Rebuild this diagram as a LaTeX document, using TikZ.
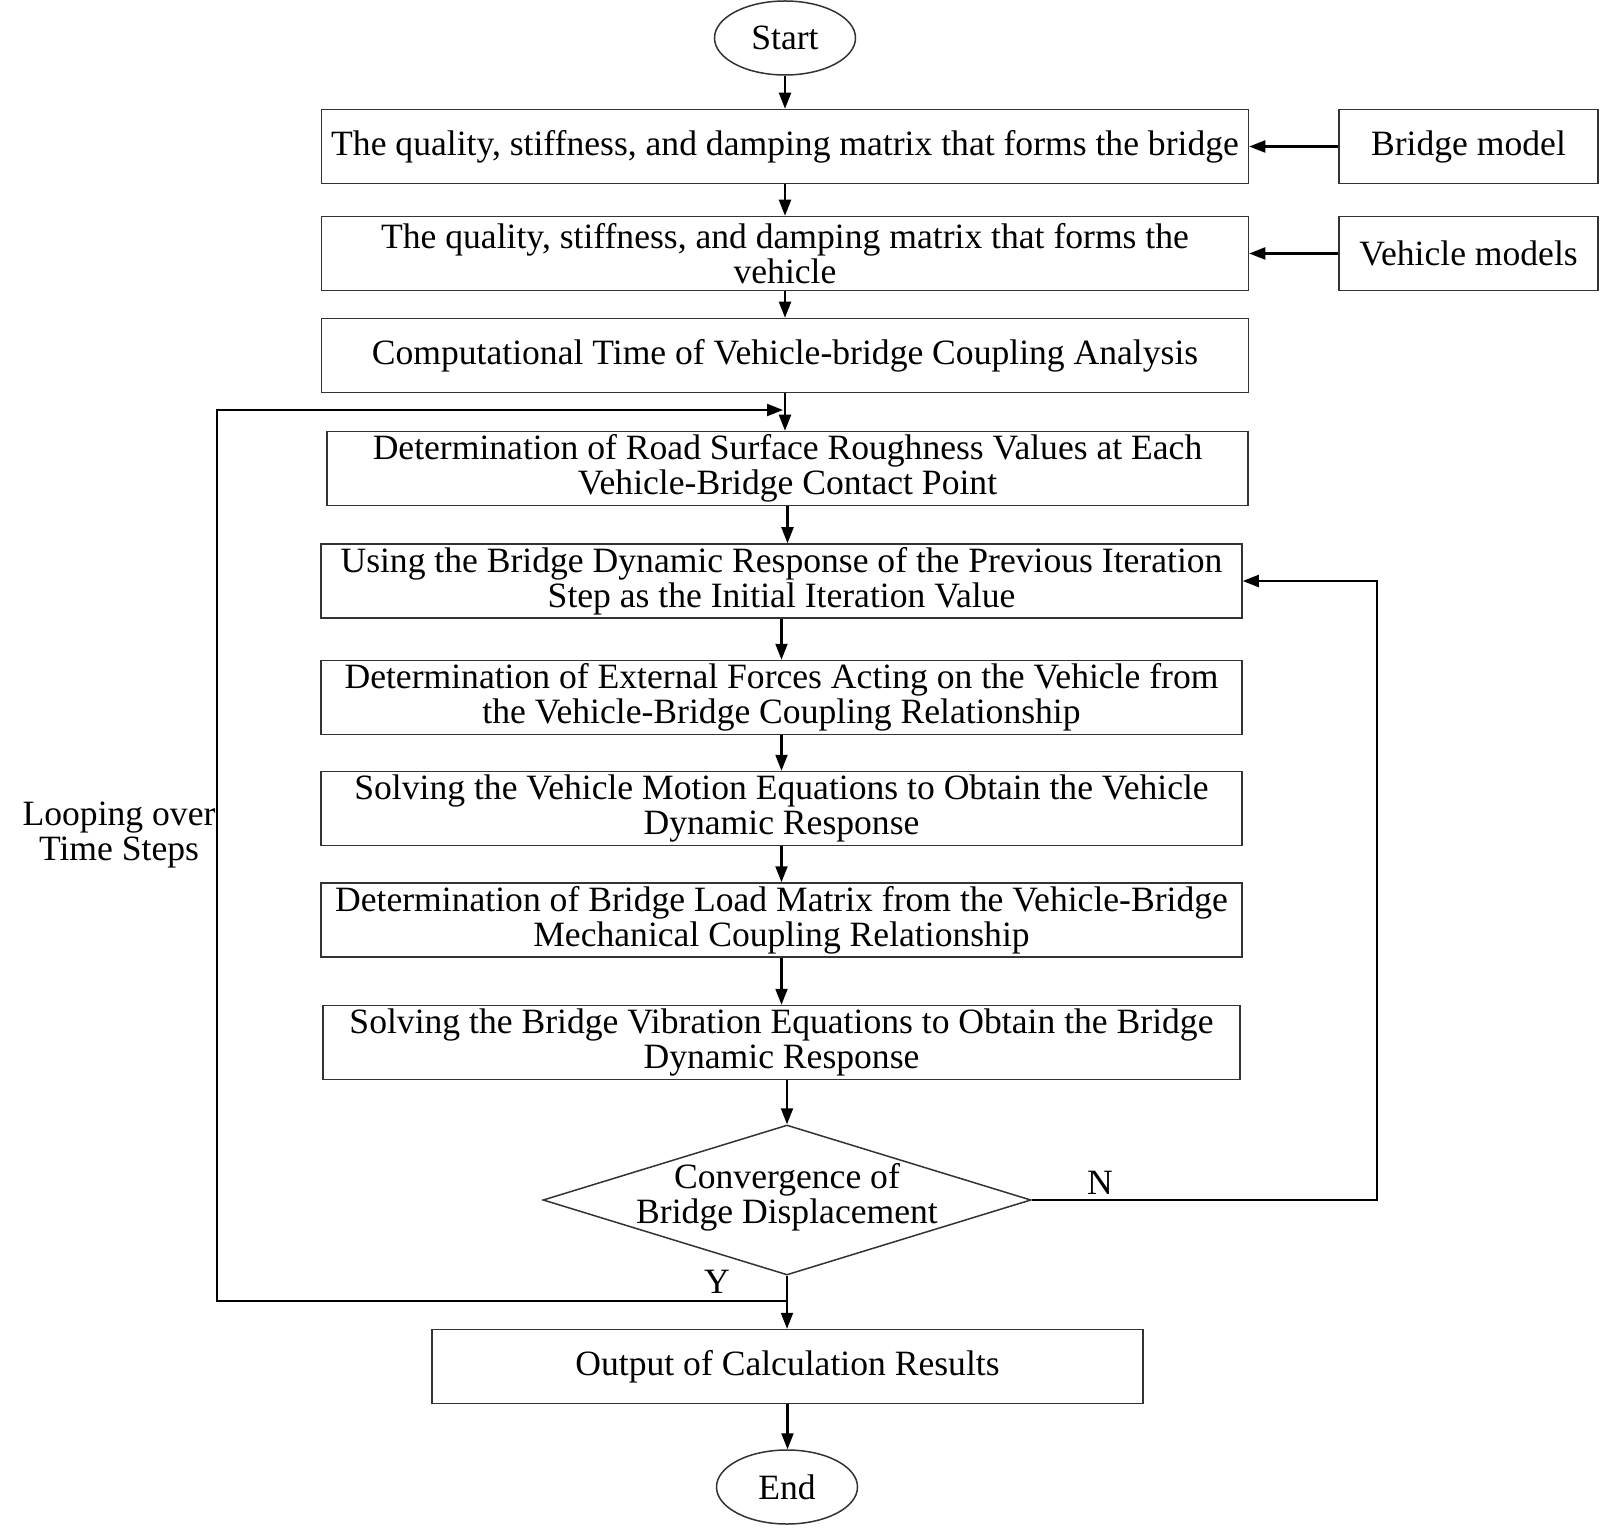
\documentclass[tikz,border=0pt]{standalone}
\usepackage{fontspec}
\setmainfont{Liberation Serif}
\usetikzlibrary{shapes.geometric,arrows.meta}
\begin{document}
\begin{tikzpicture}[x=0.5pt,y=-0.5pt,
  txt/.style={font=\fontsize{17.8}{17.5}\selectfont, align=center, inner sep=0pt},
  box/.style={txt, draw=black!80, line width=0.75pt, minimum height=37pt},
  oval/.style={txt, ellipse, draw=black!80, line width=0.75pt, minimum width=70.5pt, minimum height=37pt},
  conn/.style={line width=1.05pt, -{Triangle[length=8pt,width=6pt]}},
  plain/.style={line width=1.05pt}]
\useasboundingbox[fill=white] (0,0) rectangle (1600,1529);
\node[oval] (start) at (785,38) {Start};
\node[box, minimum width=463.5pt] (b1) at (785,146.5) {The quality, stiffness, and damping matrix that forms the bridge};
\node[box, minimum width=129.5pt] (bm) at (1468.5,146.5) {Bridge model};
\node[box, minimum width=463.5pt] (b2) at (785,253.5) {The quality, stiffness, and damping matrix that forms the\\vehicle};
\node[box, minimum width=129.5pt] (vm) at (1468.5,253.5) {Vehicle models};
\node[box, minimum width=463.5pt] (b3) at (785,355.5) {Computational Time of Vehicle-bridge Coupling Analysis};
\node[box, minimum width=460.5pt] (b4) at (787.5,468.5) {Determination of Road Surface Roughness Values at Each\\Vehicle-Bridge Contact Point};
\node[box, minimum width=460.5pt] (b5) at (781.5,581) {Using the Bridge Dynamic Response of the Previous Iteration\\Step as the Initial Iteration Value};
\node[box, minimum width=460.5pt] (b6) at (781.5,697.5) {Determination of External Forces Acting on the Vehicle from\\the Vehicle-Bridge Coupling Relationship};
\node[box, minimum width=460.5pt] (b7) at (781.5,808.5) {Solving the Vehicle Motion Equations to Obtain the Vehicle\\Dynamic Response};
\node[box, minimum width=460.5pt] (b8) at (781.5,920) {Determination of Bridge Load Matrix from the Vehicle-Bridge\\Mechanical Coupling Relationship};
\node[box, minimum width=458.5pt] (b9) at (781.5,1042.5) {Solving the Bridge Vibration Equations to Obtain the Bridge\\Dynamic Response};
\node[diamond, draw=black!80, line width=0.75pt, minimum width=244pt, minimum height=75pt, inner sep=0pt] (d) at (787,1200) {};
\node[txt] (dt) at (787,1197) {Convergence of\\Bridge Displacement};
\node[box, minimum width=355.5pt] (out) at (787.5,1366.5) {Output of Calculation Results};
\node[oval] (end) at (787,1487) {End};
\node[txt] (nl) at (1100,1183) {N};
\node[txt] (yl) at (717,1282) {Y};
\node[txt] (loop) at (119,835) {Looping over\\Time Steps};
% connectors
\draw[conn] (start.south) -- (start.south |- b1.north);
\draw[conn] (b1.south) -- (b1.south |- b2.north);
\draw[conn] (b2.south) -- (b2.south |- b3.north);
\draw[conn] (b3.south) -- (b3.south |- b4.north);
\draw[conn] (b4.south) -- (b4.south |- b5.north);
\draw[conn] (b5.south) -- (b5.south |- b6.north);
\draw[conn] (b6.south) -- (b6.south |- b7.north);
\draw[conn] (b7.south) -- (b7.south |- b8.north);
\draw[conn] (b8.south) -- (b8.south |- b9.north);
\draw[conn] (b9.south -| d.north) -- (d.north);
\draw[conn] (d.south) -- (d.south |- out.north);
\draw[conn] (out.south) -- (out.south |- end.north);
\draw[conn] (bm.west) -- (b1.east);
\draw[conn] (vm.west) -- (b2.east);
\coordinate (nr) at (1377,581);
\draw[conn] (d.east) -| (nr) -- (b5.east);
\coordinate (yj) at (787,1301);
\coordinate (ylft) at (217,1301);
\coordinate (ytop) at (217,410);
\coordinate (yarr) at (783,410);
\draw[conn] (yj) -- (ylft) -- (ytop) -- (yarr);
\end{tikzpicture}
\end{document}
